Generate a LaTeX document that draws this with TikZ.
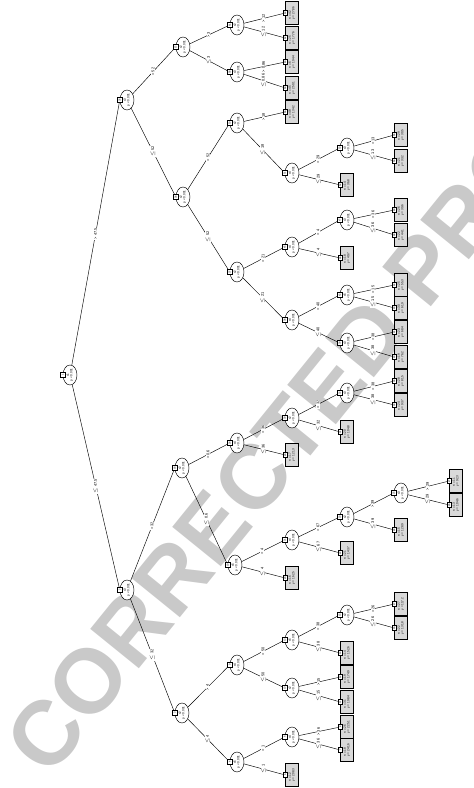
\documentclass[tikz,border=0pt]{standalone}
\usepackage{fontspec}
\setmainfont{Liberation Sans}
\usetikzlibrary{shapes.geometric}
\tikzset{
 every node/.style={font=\fontsize{3.1}{3.4}\selectfont},
 inner/.style={ellipse, draw, line width=0.45pt, fill=white, minimum width=20pt, minimum height=14pt, inner sep=0pt, rotate=90, align=center},
 leafbox/.style={rectangle, draw, line width=0.45pt, fill=black!15, minimum width=23pt, minimum height=13pt, inner sep=0pt, rotate=90, align=left},
 idbox/.style={rectangle, draw, line width=0.45pt, fill=white, minimum size=4.6pt, inner sep=0pt, rotate=90, font=\fontsize{2.5}{2.7}\selectfont},
 elab/.style={fill=white, inner sep=0.4pt, rotate=90, font=\fontsize{3.9}{4.2}\selectfont},
 conn/.style={line width=0.45pt},
 wmark/.style={text=black!21, font=\fontsize{91}{91}\bfseries, inner sep=0pt, anchor=center, rotate=51},
}
\newcommand\InnerNode[5]{\node[inner] (#1) at (#2,#3) {\\[-1.4pt]#5\\p < 0.001}; \node[idbox] (#1i) at (#1.north) {#4};}
\newcommand\LeafNode[6]{\node[leafbox] (#1) at (#2,#3) {\\[-1.6pt]n = #5\\y = #6}; \node[idbox] (#1i) at (#1.north) {#4};}
\newcommand\Conn[3]{\draw[conn] (#1) -- node[elab]{#3} (#2i);}
\begin{document}
\begin{tikzpicture}[x=1pt,y=-1pt]
\useasboundingbox (0,0) rectangle (474,788);
\node[wmark] (wm) at (316,400) {CORRECTED PROOF};
% inner nodes
\InnerNode{n1}{70}{375}{1}{x1}
\InnerNode{n2}{127}{590}{2}{x3}
\InnerNode{n3}{182}{713}{3}{x2}
\InnerNode{n4}{237}{762}{4}{x5}
\InnerNode{n6}{292}{737}{6}{x4}
\InnerNode{n9}{237}{665}{9}{x4}
\InnerNode{n10}{292}{688}{10}{x2}
\InnerNode{n13}{292}{640}{13}{x5}
\InnerNode{n15}{347}{615}{15}{x2}
\InnerNode{n18}{182}{468}{18}{x2}
\InnerNode{n19}{235}{565}{19}{x5}
\InnerNode{n21}{292}{540}{21}{x4}
\InnerNode{n23}{347}{517}{23}{x2}
\InnerNode{n25}{401}{493}{25}{x3}
\InnerNode{n28}{237}{443}{28}{x4}
\InnerNode{n30}{292}{418}{30}{x2}
\InnerNode{n32}{347}{393}{32}{x3}
\InnerNode{n35}{127}{100}{35}{x3}
\InnerNode{n36}{183}{197}{36}{x2}
\InnerNode{n37}{237}{272}{37}{x2}
\InnerNode{n38}{292}{320}{38}{x4}
\InnerNode{n39}{347}{343}{39}{x3}
\InnerNode{n42}{347}{295}{42}{x5}
\InnerNode{n45}{292}{247}{45}{x4}
\InnerNode{n47}{347}{220}{47}{x3}
\InnerNode{n50}{237}{123}{50}{x2}
\InnerNode{n51}{292}{173}{51}{x4}
\InnerNode{n53}{347}{148}{53}{x3}
\InnerNode{n57}{183}{47}{57}{x2}
\InnerNode{n58}{237}{72}{58}{x3}
\InnerNode{n61}{237}{25}{61}{x2}
% leaves
\LeafNode{n5}{292}{775}{5}{12}{208.3}
\LeafNode{n7}{347}{750}{7}{18}{241.6}
\LeafNode{n8}{347}{727}{8}{26}{225.1}
\LeafNode{n11}{347}{702}{11}{31}{198.4}
\LeafNode{n12}{347}{677}{12}{19}{174.9}
\LeafNode{n14}{347}{653}{14}{14}{152.6}
\LeafNode{n16}{401}{628}{16}{22}{131.8}
\LeafNode{n17}{401}{604}{17}{27}{117.2}
\LeafNode{n20}{292}{578}{20}{16}{162.5}
\LeafNode{n22}{347}{553}{22}{21}{143.7}
\LeafNode{n24}{401}{530}{24}{15}{128.9}
\LeafNode{n26}{456}{505}{26}{13}{104.6}
\LeafNode{n27}{456}{481}{27}{11}{92.3}
\LeafNode{n29}{292}{455}{29}{17}{121.3}
\LeafNode{n31}{347}{432}{31}{20}{104.8}
\LeafNode{n33}{401}{405}{33}{24}{93.7}
\LeafNode{n34}{401}{381}{34}{28}{81.5}
\LeafNode{n40}{401}{357}{40}{19}{76.2}
\LeafNode{n41}{401}{332}{41}{23}{68.4}
\LeafNode{n43}{401}{308}{43}{30}{61.9}
\LeafNode{n44}{401}{285}{44}{25}{55.3}
\LeafNode{n46}{347}{258}{46}{18}{49.7}
\LeafNode{n48}{401}{235}{48}{22}{44.1}
\LeafNode{n49}{401}{210}{49}{26}{39.6}
\LeafNode{n52}{347}{185}{52}{14}{36.8}
\LeafNode{n54}{401}{161}{54}{21}{33.2}
\LeafNode{n55}{401}{135}{55}{29}{30.5}
\LeafNode{n56}{292}{112}{56}{48}{134.2}
\LeafNode{n59}{292}{88}{59}{45}{250.1}
\LeafNode{n60}{292}{62}{60}{6}{194.4}
\LeafNode{n62}{292}{38}{62}{25}{17.76}
\LeafNode{n63}{292}{13}{63}{42}{27.86}
% connectors
\Conn{n1}{n2}{$\le$ 47.5}
\Conn{n1}{n35}{> 47.5}
\Conn{n2}{n3}{$\le$ 32}
\Conn{n2}{n18}{> 32}
\Conn{n3}{n4}{$\le$ 4}
\Conn{n3}{n9}{> 4}
\Conn{n4}{n5}{$\le$ 1}
\Conn{n4}{n6}{> 1}
\Conn{n6}{n7}{$\le$ 36}
\Conn{n6}{n8}{> 36}
\Conn{n9}{n10}{$\le$ 50}
\Conn{n9}{n13}{> 50}
\Conn{n10}{n11}{$\le$ 15}
\Conn{n10}{n12}{> 15}
\Conn{n13}{n14}{$\le$ 38}
\Conn{n13}{n15}{> 38}
\Conn{n15}{n16}{$\le$ 26}
\Conn{n15}{n17}{> 26}
\Conn{n18}{n19}{$\le$ 0.6}
\Conn{n18}{n28}{> 0.6}
\Conn{n19}{n20}{$\le$ 4}
\Conn{n19}{n21}{> 4}
\Conn{n21}{n22}{$\le$ 67}
\Conn{n21}{n23}{> 67}
\Conn{n23}{n24}{$\le$ 39}
\Conn{n23}{n25}{> 39}
\Conn{n25}{n26}{$\le$ 29}
\Conn{n25}{n27}{> 29}
\Conn{n28}{n29}{$\le$ 36}
\Conn{n28}{n30}{> 36}
\Conn{n30}{n31}{$\le$ 32}
\Conn{n30}{n32}{> 32}
\Conn{n32}{n33}{$\le$ 38}
\Conn{n32}{n34}{> 38}
\Conn{n35}{n36}{$\le$ 52}
\Conn{n35}{n57}{> 52}
\Conn{n36}{n37}{$\le$ 52}
\Conn{n36}{n50}{> 52}
\Conn{n37}{n38}{$\le$ 21}
\Conn{n37}{n45}{> 21}
\Conn{n38}{n39}{$\le$ 40}
\Conn{n38}{n42}{> 40}
\Conn{n39}{n40}{$\le$ 38}
\Conn{n39}{n41}{> 38}
\Conn{n42}{n43}{$\le$ 15}
\Conn{n42}{n44}{> 15}
\Conn{n45}{n46}{$\le$ 4}
\Conn{n45}{n47}{> 4}
\Conn{n47}{n48}{$\le$ 36}
\Conn{n47}{n49}{> 36}
\Conn{n50}{n51}{$\le$ 18}
\Conn{n50}{n56}{> 18}
\Conn{n51}{n52}{$\le$ 29}
\Conn{n51}{n53}{> 29}
\Conn{n53}{n54}{$\le$ 13}
\Conn{n53}{n55}{> 13}
\Conn{n57}{n58}{$\le$ 3}
\Conn{n57}{n61}{> 3}
\Conn{n58}{n59}{$\le$ 0.86}
\Conn{n58}{n60}{> 0.86}
\Conn{n61}{n62}{$\le$ 12}
\Conn{n61}{n63}{> 12}
\end{tikzpicture}
\end{document}
